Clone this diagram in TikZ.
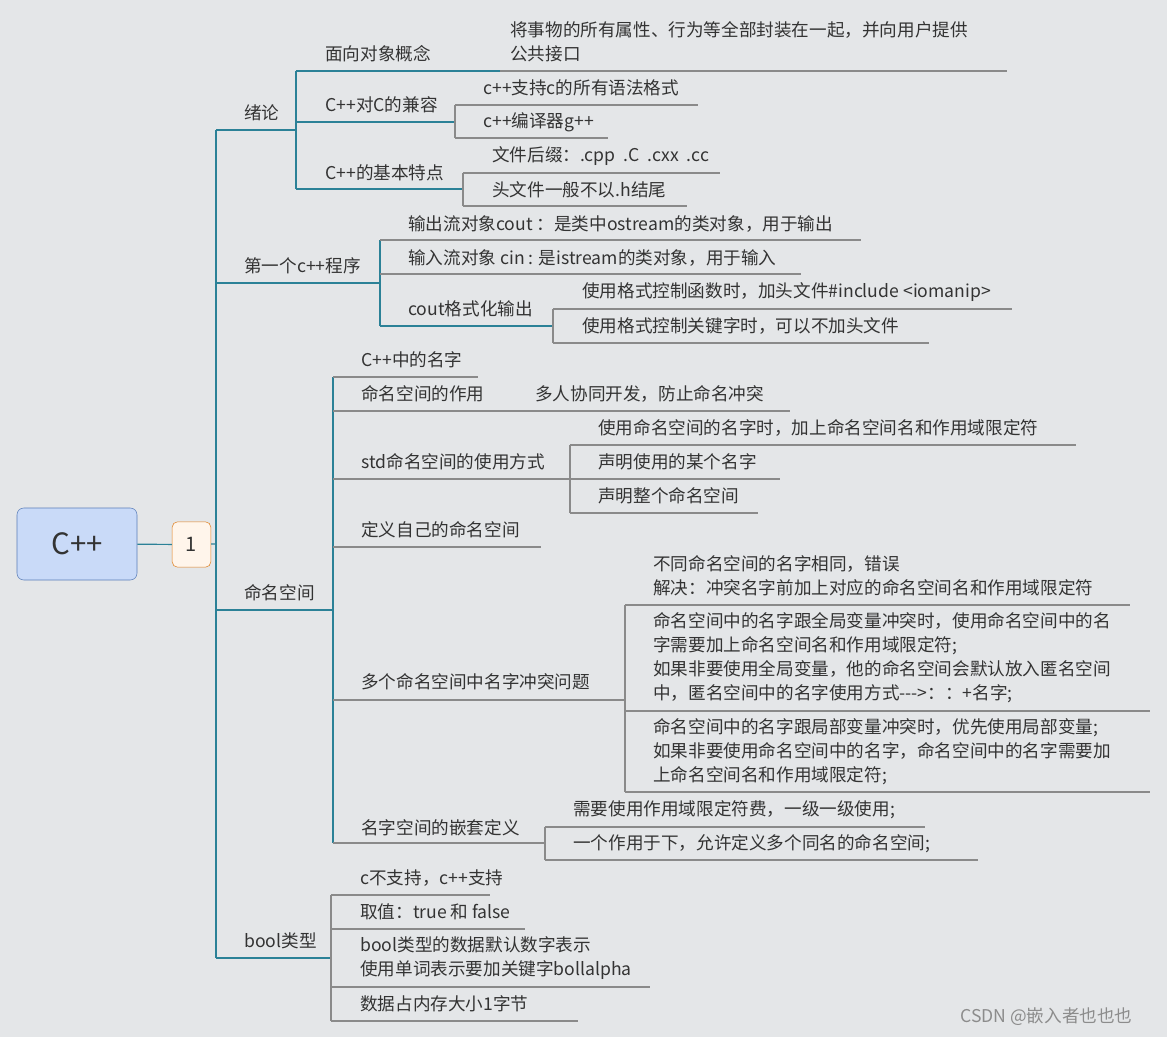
\documentclass[tikz,border=0pt]{standalone}
\usepackage{fontspec}
\setmainfont{Noto Sans CJK SC}
\usetikzlibrary{positioning}
\definecolor{bgc}{HTML}{E4E6E8}
\definecolor{mainline}{HTML}{2B8197}
\definecolor{leafline}{HTML}{8A8A8A}
\definecolor{txt}{HTML}{333333}
\definecolor{rootfill}{HTML}{C9DAF8}
\definecolor{rootdraw}{HTML}{5A7DB8}
\tikzstyle{lbl} = [anchor=west, inner sep=0pt, text=txt, font=\fontsize{13.2}{18}\selectfont, align=left]
\tikzstyle{br} = [mainline, line width=0.9pt]
\tikzstyle{lf} = [leafline, line width=0.8pt]
\tikzstyle{rootbox} = [rectangle, rounded corners=5pt, draw=rootdraw, fill=rootfill, minimum width=90pt, minimum height=54pt, font=\fontsize{22}{26}\selectfont, text=txt]
\tikzstyle{numbox} = [rectangle, rounded corners=4pt, draw=orange!50!brown, fill=orange!8, minimum width=29pt, minimum height=34pt, font=\fontsize{15}{18}\selectfont, text=txt]

\begin{document}
\begin{tikzpicture}[x=0.75pt,y=-0.75pt]
\fill[bgc] (0,0) rectangle (1167,1037);
\useasboundingbox (0,0) rectangle (1167,1037);

% root
\node (root) [rootbox] at (77,544) {C++};
\node (one) [numbox] at (191.5,544.5) {1};
\draw[br] (root) -- (one);
\draw[br] (one) -- (216,544);
\draw[br] (216,130) -- (216,958);

% main branches
\node (xulun) [lbl] at (244,113) {绪论};
\node (first) [lbl] at (244,266) {第一个c++程序};
\node (ns) [lbl] at (244,593) {命名空间};
\node (bool) [lbl] at (244,941) {bool类型};
\draw[br] (216,130) -- (296,130);
\draw[br] (216,283) -- (380,283);
\draw[br] (216,610) -- (333,610);
\draw[br] (216,958) -- (331,958);

% 绪论
\draw[br] (296,71) -- (296,189);
\node (oop) [lbl] at (325,54) {面向对象概念};
\node (oopd) [lbl] at (510,42) {将事物的所有属性、行为等全部封装在一起，并向用户提供\\公共接口};
\draw[br] (296,71) -- (500,71);
\draw[lf] (500,71) -- (1007,71);
\node (compat) [lbl] at (325,105) {C++对C的兼容};
\draw[br] (296,122) -- (455,122);
\draw[lf] (455,105) -- (455,138);
\node (c1) [lbl] at (483,88) {c++支持c的所有语法格式};
\node (c2) [lbl] at (483,122) {c++编译器g++};
\draw[lf] (455,105) -- (698,105);
\draw[lf] (455,138) -- (608,138);
\node (feat) [lbl] at (325,173) {C++的基本特点};
\draw[br] (296,189) -- (463,189);
\draw[lf] (463,173) -- (463,206);
\node (f1) [lbl] at (492,156) {文件后缀：.cpp \ .C \ .cxx \ .cc};
\node (f2) [lbl] at (492,190) {头文件一般不以.h结尾};
\draw[lf] (463,173) -- (720,173);
\draw[lf] (463,206) -- (687,206);

% 第一个c++程序
\draw[br] (380,240) -- (380,326);
\node (cout) [lbl] at (408,224) {输出流对象cout ：是类中ostream的类对象，用于输出};
\node (cin) [lbl] at (408,258) {输入流对象 cin : 是istream的类对象，用于输入};
\node (fmt) [lbl] at (408,309) {cout格式化输出};
\draw[lf] (380,240) -- (861,240);
\draw[lf] (380,274) -- (801,274);
\draw[br] (380,326) -- (553,326);
\draw[lf] (553,309) -- (553,343);
\node (fm1) [lbl] at (582,292) {使用格式控制函数时，加头文件\#include <iomanip>};
\node (fm2) [lbl] at (582,326) {使用格式控制关键字时，可以不加头文件};
\draw[lf] (553,309) -- (1012,309);
\draw[lf] (553,343) -- (929,343);

% 命名空间
\draw[br] (333,377) -- (333,843);
\node (n1) [lbl] at (361,360) {C++中的名字};
\draw[lf] (333,377) -- (478,377);
\node (n2) [lbl] at (361,394) {命名空间的作用};
\node (n2a) [lbl] at (535,394) {多人协同开发，防止命名冲突};
\draw[lf] (333,411) -- (790,411);
\node (n3) [lbl] at (361,462) {std命名空间的使用方式};
\draw[lf] (333,479) -- (570,479);
\draw[lf] (570,445) -- (570,513);
\node (s1) [lbl] at (598,428) {使用命名空间的名字时，加上命名空间名和作用域限定符};
\node (s2) [lbl] at (598,462) {声明使用的某个名字};
\node (s3) [lbl] at (598,496) {声明整个命名空间};
\draw[lf] (570,445) -- (1076,445);
\draw[lf] (570,479) -- (780,479);
\draw[lf] (570,513) -- (758,513);
\node (n4) [lbl] at (361,530) {定义自己的命名空间};
\draw[lf] (333,547) -- (541,547);
\node (n5) [lbl] at (361,682) {多个命名空间中名字冲突问题};
\draw[lf] (333,700) -- (625,700);
\draw[lf] (625,605) -- (625,792);
\node (k1) [lbl] at (653,576) {不同命名空间的名字相同，错误\\解决：冲突名字前加上对应的命名空间名和作用域限定符};
\node (k2) [lbl] at (653,658) {命名空间中的名字跟全局变量冲突时，使用命名空间中的名\\字需要加上命名空间名和作用域限定符;\\如果非要使用全局变量，他的命名空间会默认放入匿名空间\\中，匿名空间中的名字使用方式-{}-{}->：：+名字;};
\node (k3) [lbl] at (653,752) {命名空间中的名字跟局部变量冲突时，优先使用局部变量;\\如果非要使用命名空间中的名字，命名空间中的名字需要加\\上命名空间名和作用域限定符;};
\draw[lf] (625,605) -- (1130,605);
\draw[lf] (625,711) -- (1150,711);
\draw[lf] (625,792) -- (1150,792);
\node (n6) [lbl] at (361,828) {名字空间的嵌套定义};
\draw[lf] (333,843) -- (545,843);
\draw[lf] (545,827) -- (545,860);
\node (e1) [lbl] at (573,810) {需要使用作用域限定符费，一级一级使用;};
\node (e2) [lbl] at (573,844) {一个作用于下，允许定义多个同名的命名空间;};
\draw[lf] (545,827) -- (925,827);
\draw[lf] (545,860) -- (978,860);

% bool类型
\draw[lf] (331,895) -- (331,1021);
\node (b1) [lbl] at (360,878) {c不支持，c++支持};
\node (b2) [lbl] at (360,912) {取值：true 和 false};
\node (b3) [lbl] at (360,958) {bool类型的数据默认数字表示\\使用单词表示要加关键字bollalpha};
\node (b4) [lbl] at (360,1004) {数据占内存大小1字节};
\draw[lf] (331,895) -- (490,895);
\draw[lf] (331,929) -- (525,929);
\draw[lf] (331,987) -- (650,987);
\draw[lf] (331,1021) -- (578,1021);

\node (mark) [lbl, text=black!45] at (960,1017) {CSDN @嵌入者也也也};
\end{tikzpicture}
\end{document}
